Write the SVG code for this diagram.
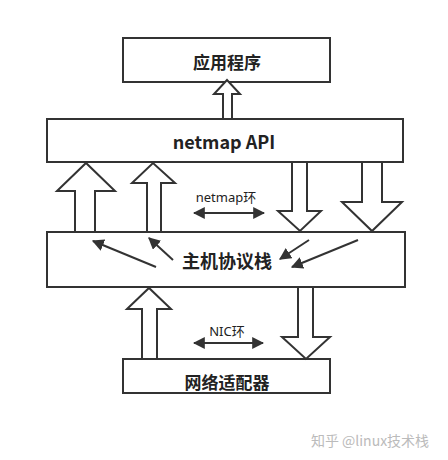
<svg xmlns="http://www.w3.org/2000/svg" width="448" height="460" viewBox="0 0 448 460">
<defs>
<style>
.box{fill:#fff;stroke:#333;stroke-width:2}
.big{fill:#fff;stroke:#333;stroke-width:2;stroke-linejoin:miter}
.t{font-family:"Noto Sans CJK SC","Noto Sans",sans-serif;font-weight:bold;fill:#222;text-anchor:middle}
.s{font-family:"Noto Sans","Noto Sans CJK SC",sans-serif;font-size:13px;fill:#222;text-anchor:middle}
.ln{stroke:#333;stroke-width:2;fill:none}
</style>
<marker id="ah" viewBox="0 0 10 10" refX="9" refY="5" markerWidth="6" markerHeight="6" orient="auto-start-reverse" markerUnits="strokeWidth">
<path d="M0,0 L10,5 L0,10 z" fill="#333"/>
</marker>
</defs>
<rect width="448" height="460" fill="#fff"/>
<g id="app">
<rect class="box" x="123" y="38" width="207" height="44"/>
<text class="t" x="227" y="69" font-size="17">应用程序</text>
</g>
<g id="netmap">
<rect class="box" x="47" y="119" width="356" height="43"/>
<text class="t" x="224" y="149" font-size="18">netmap API</text>
</g>
<g id="stack">
<rect class="box" x="47" y="232" width="358" height="55"/>
<text class="t" x="227" y="268" font-size="18">主机协议栈</text>
</g>
<g id="nic">
<rect class="box" x="123" y="359" width="207" height="34"/>
<text class="t" x="227" y="389" font-size="17">网络适配器</text>
</g>
<g id="connectors">
<polygon class="big" points="223,119 223,94 214,94 227,80 240,94 232,94 232,119"/>
<polygon class="big" points="75,232 75,191 57,191 86,163 115,191 95,191 95,232"/>
<polygon class="big" points="147,232 147,183 132,183 153,163 175,183 161,183 161,232"/>
<polygon class="big" points="292,162 292,211 278,211 300,231 321,211 307,211 307,162"/>
<polygon class="big" points="362,162 362,202 342,202 372,231 402,202 382,202 382,162"/>
<polygon class="big" points="142,359 142,309 127,309 149,288 171,309 157,309 157,359"/>
<polygon class="big" points="298,287 298,337 282,337 306,359 330,337 313,337 313,287"/>
<line class="ln" x1="156" y1="267" x2="93" y2="241" marker-end="url(#ah)"/>
<line class="ln" x1="173" y1="260" x2="149" y2="238" marker-end="url(#ah)"/>
<line class="ln" x1="309" y1="240" x2="280" y2="259" marker-end="url(#ah)"/>
<line class="ln" x1="358" y1="240" x2="292" y2="267" marker-end="url(#ah)"/>
<line class="ln" x1="194" y1="213" x2="264" y2="213" marker-start="url(#ah)" marker-end="url(#ah)"/>
<line class="ln" x1="194" y1="343" x2="263" y2="343" marker-start="url(#ah)" marker-end="url(#ah)"/>
<text class="s" x="226" y="202">netmap环</text>
<text class="s" x="227" y="336">NIC环</text>
</g>
<text x="370" y="446" font-family="Noto Sans CJK SC,sans-serif" font-size="14" fill="#bbb" text-anchor="middle">知乎 @linux技术栈</text>
</svg>
